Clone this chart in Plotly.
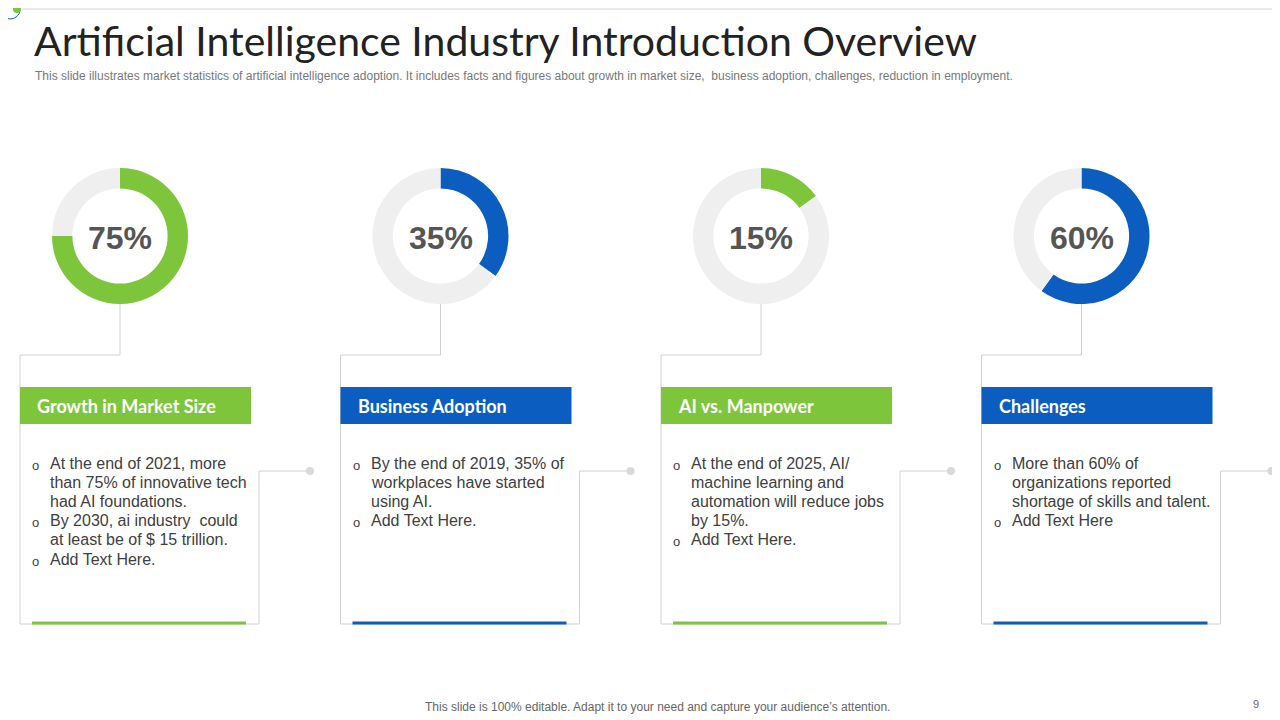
import plotly.graph_objects as go

W, H = 1280, 720
OFF = 8
values = [75, 35, 15, 60]
labels = ["75%", "35%", "15%", "60%"]
titles = ["Growth in Market Size", "Business Adoption", "AI vs. Manpower", "Challenges"]
bullets = [
    [["At the end of 2021, more", "than 75% of innovative tech", "had AI foundations."],
     ["By 2030, ai industry  could", "at least be of $ 15 trillion."],
     ["Add Text Here."]],
    [["By the end of 2019, 35% of", "workplaces have started", "using AI."], ["Add Text Here."]],
    [["At the end of 2025, AI/", "machine learning and", "automation will reduce jobs", "by 15%."], ["Add Text Here."]],
    [["More than 60% of", "organizations reported", "shortage of skills and talent."], ["Add Text Here"]],
]
GREEN, BLUE = "#7DC63C", "#0B5EBF"
colors = [GREEN, BLUE, GREEN, BLUE]

fig = go.Figure()
shapes, ann = [], []
LG = "#D0D0D0"

def line(x0, y0, x1, y1, c=LG, w=1):
    shapes.append(dict(type="line", x0=x0, y0=y0, x1=x1, y1=y1, xref="x", yref="y", line=dict(color=c, width=w)))

for i, v in enumerate(values):
    ox = i * 320.5
    cx = 120 + ox
    fig.add_trace(go.Pie(values=[v, 100 - v], hole=0.7, sort=False, direction="clockwise", rotation=0,
                         marker=dict(colors=[colors[i], "#EFEFEF"], line=dict(width=0)),
                         textinfo="none", hoverinfo="skip", showlegend=False,
                         domain=dict(x=[(cx - 68 - OFF) / W, (cx + 68 - OFF) / W],
                                     y=[(H + OFF - 304) / H, (H + OFF - 168) / H])))
    ann.append(dict(x=cx, y=238, text="<b>%s</b>" % labels[i], showarrow=False,
                    font=dict(size=32, color="#555555", family="Liberation Sans")))
    L = 20 + ox
    line(cx, 304, cx, 355); line(cx, 355, L, 355); line(L, 355, L, 624)
    line(L, 624, L + 239, 624); line(L + 239, 624, L + 239, 471); line(L + 239, 471, L + 290, 471)
    shapes.append(dict(type="circle", x0=L + 286, x1=L + 294, y0=467, y1=475, xref="x", yref="y",
                       fillcolor="#D9D9D9", line=dict(width=0)))
    shapes.append(dict(type="rect", x0=L, x1=L + 231, y0=387, y1=424, xref="x", yref="y",
                       fillcolor=colors[i], line=dict(width=0)))
    shapes.append(dict(type="rect", x0=L + 12, x1=L + 226, y0=621.5, y1=624.5, xref="x", yref="y",
                       fillcolor=colors[i], line=dict(width=0)))
    ann.append(dict(x=L + 15, y=406, text="<b>%s</b>" % titles[i], showarrow=False, xanchor="left",
                    font=dict(size=18, color="white", family="Lato")))
    y = 463
    for b in bullets[i]:
        ann.append(dict(x=L + 10, y=y + 2, text="o", showarrow=False, xanchor="left",
                        font=dict(size=13, color="#404040", family="Liberation Sans")))
        for ln in b:
            ann.append(dict(x=L + 28, y=y, text=ln, showarrow=False, xanchor="left",
                            font=dict(size=16, color="#404040", family="Liberation Sans")))
            y += 19.2

line(22, 9, 1288, 9)
shapes.append(dict(type="circle", x0=0, x1=20, y0=1, y1=19, xref="x", yref="y", line=dict(color="#0B5EBF", width=1)))
shapes.append(dict(type="circle", x0=13, x1=21, y0=5, y1=13, xref="x", yref="y", fillcolor=GREEN, line=dict(width=0)))

ann += [
    dict(x=32, y=40, text="Artificial Intelligence Industry Introduction Overview", showarrow=False, xanchor="left",
         font=dict(size=41, color="#222222", family="Lato")),
    dict(x=33, y=76, text="This slide illustrates market statistics of artificial intelligence adoption. It includes facts and figures about growth in market size,  business adoption, challenges, reduction in employment.",
         showarrow=False, xanchor="left", font=dict(size=12, color="#777777", family="Liberation Sans")),
    dict(x=657, y=707, text="This slide is 100% editable. Adapt it to your need and capture your audience’s attention.",
         showarrow=False, font=dict(size=12, color="#666666", family="Liberation Sans")),
    dict(x=1256, y=704, text="9", showarrow=False, font=dict(size=11, color="#666666", family="Liberation Sans")),
]

fig.update_layout(width=W, height=H, margin=dict(l=0, r=0, t=0, b=0), paper_bgcolor="white", plot_bgcolor="white",
                  xaxis=dict(range=[OFF, W + OFF], visible=False, fixedrange=True),
                  yaxis=dict(range=[H + OFF, OFF], visible=False, fixedrange=True),
                  shapes=shapes, annotations=ann)
fig.write_html("out.html")
